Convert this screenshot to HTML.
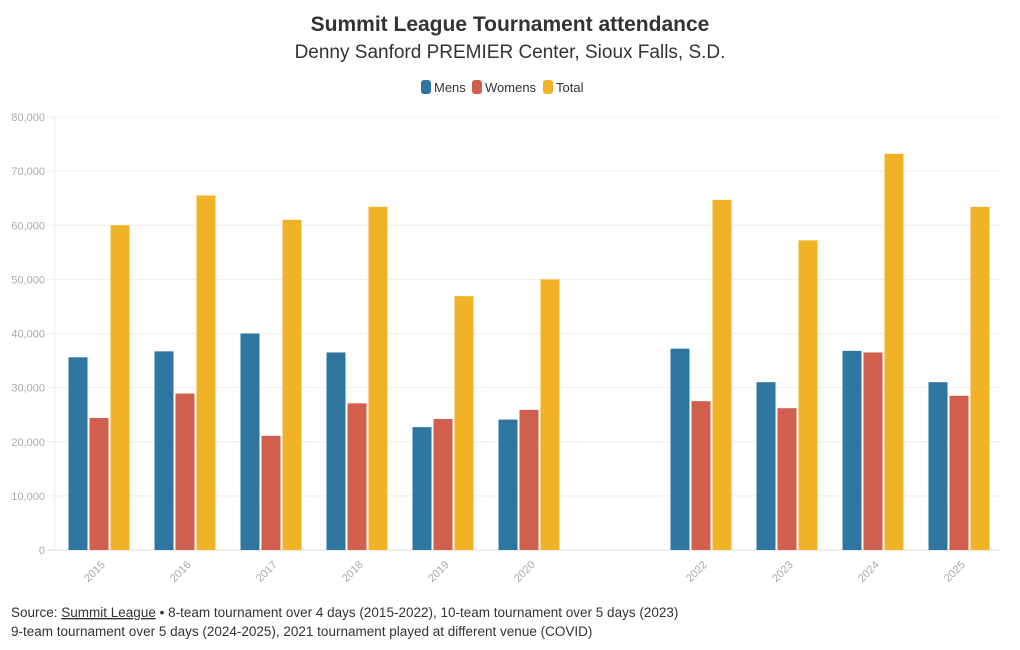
<!DOCTYPE html>
<html><head><meta charset="utf-8"><style>
body{margin:0;background:#fff;font-family:"Liberation Sans",sans-serif;}
</style></head><body>
<svg id="c" width="1020" height="650" style="display:block">
<text x="510" y="31" text-anchor="middle" font-size="21" font-weight="bold" fill="#333">Summit League Tournament attendance</text>
<text x="510" y="58" text-anchor="middle" font-size="19" fill="#333">Denny Sanford PREMIER Center, Sioux Falls, S.D.</text>
<g font-size="13" fill="#333">
<rect x="421" y="80" width="10" height="14" rx="3" fill="#2e75a0"/>
<text x="434" y="92">Mens</text>
<rect x="472" y="80" width="10" height="14" rx="3" fill="#d05f4e"/>
<text x="485" y="92">Womens</text>
<rect x="543" y="80" width="10" height="14" rx="3" fill="#efb325"/>
<text x="556" y="92">Total</text>
</g>
<g id="grid"></g><g id="bars"></g><g id="xl"></g>
<text x="11" y="617" font-size="13.5" fill="#333">Source: <tspan text-decoration="underline">Summit League</tspan> • 8-team tournament over 4 days (2015-2022), 10-team tournament over 5 days (2023)</text>
<text x="11" y="636" font-size="13.5" fill="#333">9-team tournament over 5 days (2024-2025), 2021 tournament played at different venue (COVID)</text>
</svg>
<script>
const categories=["2015","2016","2017","2018","2019","2020","2021","2022","2023","2024","2025"];
const mens=[35600,36700,40000,36500,22700,24100,null,37200,31000,36800,31000];
const womens=[24400,28900,21100,27100,24200,25900,null,27500,26200,36500,28500];
const total=[60000,65500,61000,63400,46900,50000,null,64700,57200,73200,63400];
const yTicks=[0,10000,20000,30000,40000,50000,60000,70000,80000];
const NS="http://www.w3.org/2000/svg";
const x0=55,x1=1001,y0=550,y1=117,yMax=80000;
const slot=(x1-x0)/categories.length;
const y=v=>y0-(v/yMax)*(y0-y1);
const xc=i=>x0+1+slot*(i+0.5);
function mk(t,a,p){const e=document.createElementNS(NS,t);for(const k in a)e.setAttribute(k,a[k]);p.appendChild(e);return e;}
const grid=document.getElementById('grid');
yTicks.forEach(t=>{
  const l=mk('line',{x1:47,x2:x1,y1:y(t),y2:y(t),stroke:t===0?'#ddd':'#eee'},grid);
  
  
  const tx=mk('text',{x:45,y:y(t)+4,'text-anchor':'end','font-size':11,fill:'#aaa'},grid);
  tx.textContent=t.toLocaleString('en-US');
  
  
});
const ax=mk('line',{x1:x0,x2:x0,y1:y1,y2:y0,stroke:'#eee'},grid);


const bars=document.getElementById('bars'),xl=document.getElementById('xl');
const series=[[mens,'#2e75a0','mens'],[womens,'#d05f4e','womens'],[total,'#efb325','total']];
const bw=19,gap=2;
categories.forEach((c,i)=>{
  series.forEach(([arr,col,nm],j)=>{
    const v=arr[i]; if(v==null)return;
    const bx=xc(i)-(bw*1.5+gap)+j*(bw+gap);
    const r=mk('rect',{x:bx,y:y(v),width:bw,height:y0-y(v),fill:col},bars);
    
    
  });
  if(c==="2021")return;
  const cx=xc(i)-2,cy=574;
  const t=mk('text',{x:cx,y:cy,'text-anchor':'middle','font-size':11,fill:'#aaa',transform:`rotate(-45 ${cx} ${cy})`},xl);
  t.textContent=c;
  
  
});
</script>
</body></html>
